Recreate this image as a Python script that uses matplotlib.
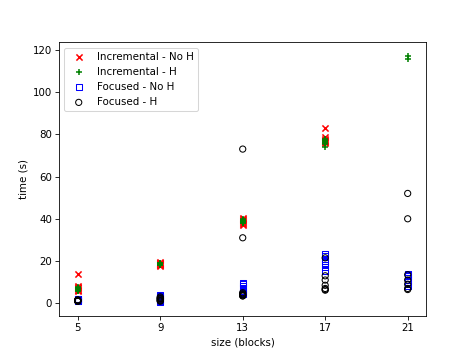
import matplotlib
matplotlib.use("Agg")
import matplotlib.pyplot as plt

# run times (s) for each problem size
sizes = [5, 9, 13, 17, 21]

inc_noh = {
    5: [14, 7.5, 7, 6.5, 6, 6.5, 7, 8],
    9: [17.5, 18, 18.5, 19, 19.5, 18, 18.5, 19],
    13: [37, 38, 39, 40, 40.5, 38.5, 39.5, 37.5],
    17: [83, 78, 77, 77.5, 76.5, 78.5, 77, 76],
    21: [],
}
inc_h = {
    5: [6, 6.5, 7, 7, 7.5, 6.5, 7, 6],
    9: [18, 18.5, 19, 18.5, 19, 18, 18.5],
    13: [38, 38.5, 39, 39.5, 40, 38, 39],
    17: [74, 76, 77, 77.5, 78, 76.5, 75.5],
    21: [117, 115.5],
}
foc_noh = {
    5: [1.5, 2, 1, 1.5, 2, 1, 1.5, 2],
    9: [0.8, 1.5, 2, 2.5, 3, 3.5, 4, 1.2],
    13: [4.5, 5, 6, 7, 8, 9, 9.5, 5.5],
    17: [15.5, 17, 18, 19, 20, 21, 22.5, 23.5],
    21: [8, 9, 10, 11, 12, 13, 14, 13.5],
}
foc_h = {
    5: [1, 1.5, 1, 1.2, 1.5, 1, 1.3, 1.5],
    9: [1, 1.5, 2, 2.5, 3, 1.2, 2.2],
    13: [73, 31, 3.5, 4, 4.5, 5, 4, 3.5],
    17: [21.5, 13, 11, 8.5, 6.2, 7, 6.5],
    21: [52, 40, 13.5, 11, 9, 6.5, 7],
}


def flatten(d):
    xs, ys = [], []
    for k in sizes:
        xs += [k] * len(d[k])
        ys += d[k]
    return xs, ys


fig, ax = plt.subplots(figsize=(6.4, 4.8), dpi=74)

x, y = flatten(inc_noh)
ax.scatter(x, y, marker="x", c="r", label="Incremental - No H")
x, y = flatten(inc_h)
ax.scatter(x, y, marker="+", c="g", label="Incremental - H")
x, y = flatten(foc_noh)
ax.scatter(x, y, marker="s", facecolors="none", edgecolors="b", label="Focused - No H")
x, y = flatten(foc_h)
ax.scatter(x, y, marker="o", facecolors="none", edgecolors="k", label="Focused - H")

ax.set_xticks(sizes)
ax.set_xlim(4.1, 21.9)
ax.set_ylim(-6, 123.5)
ax.set_xlabel("size (blocks)")
ax.set_ylabel("time (s)")
ax.legend(loc="upper left")

plt.savefig("out.png", dpi=74)
